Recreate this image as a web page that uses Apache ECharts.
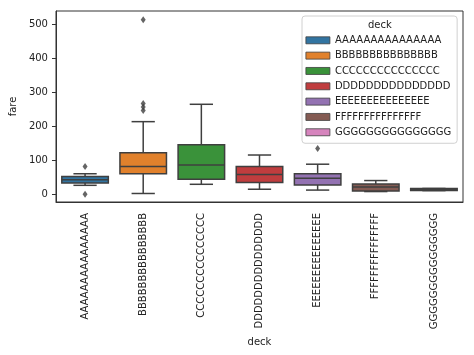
<!DOCTYPE html>
<html>
<head>
<meta charset="utf-8">
<script src="https://cdn.jsdelivr.net/npm/echarts@6/dist/echarts.min.js"></script>
<style>html,body{margin:0;padding:0;background:#fff}#c{width:474px;height:355px}</style>
</head>
<body>
<div id="c"></div>
<script>
const categories = ['AAAAAAAAAAAAAAA','BBBBBBBBBBBBBBB','CCCCCCCCCCCCCCC','DDDDDDDDDDDDDDD','EEEEEEEEEEEEEEE','FFFFFFFFFFFFFFF','GGGGGGGGGGGGGGG'];
const colors = ['#3274a1','#e1812c','#3a923a','#c03d3e','#9372b2','#845b53','#d684bd'];
const lows  = [26, 2, 29, 14.5, 12, 7.7, 10.5];
const q1s   = [33, 60, 44, 34, 27, 9.6, 10.5];
const meds  = [42, 81, 86, 57.5, 47, 21, 13.6];
const q3s   = [52, 122, 145, 81, 60, 30, 16.7];
const highs = [60, 213, 264, 115, 88, 40, 16.7];
const outlierCat = [0, 0, 1, 1, 1, 1, 4];
const outlierVal = [0, 81, 512, 266, 256, 246, 134];
const yTicks = [0, 100, 200, 300, 400, 500];

const FONT = 'DejaVu Sans';
const EDGE = '#3f3f3f';

function renderBox(params, api) {
  const i = api.value(0);
  const pLow = api.coord([i, api.value(1)]);
  const pQ1 = api.coord([i, api.value(2)]);
  const pMed = api.coord([i, api.value(3)]);
  const pQ3 = api.coord([i, api.value(4)]);
  const pHigh = api.coord([i, api.value(5)]);
  const cx = pMed[0];
  const bw = api.size([1, 0])[0] * 0.8;
  const cw = bw / 2;
  const ls = {stroke: EDGE, lineWidth: 1.5};
  return {
    type: 'group',
    children: [
      {type: 'line', shape: {x1: cx, y1: pQ3[1], x2: cx, y2: pHigh[1]}, style: ls},
      {type: 'line', shape: {x1: cx, y1: pQ1[1], x2: cx, y2: pLow[1]}, style: ls},
      {type: 'line', shape: {x1: cx - cw/2, y1: pHigh[1], x2: cx + cw/2, y2: pHigh[1]}, style: ls},
      {type: 'line', shape: {x1: cx - cw/2, y1: pLow[1], x2: cx + cw/2, y2: pLow[1]}, style: ls},
      {type: 'rect', shape: {x: cx - bw/2, y: pQ3[1], width: bw, height: pQ1[1] - pQ3[1]},
        style: {fill: api.visual('color'), stroke: EDGE, lineWidth: 1.5}},
      {type: 'line', shape: {x1: cx - bw/2, y1: pMed[1], x2: cx + bw/2, y2: pMed[1]}, style: ls}
    ]
  };
}

const boxSeries = categories.map((name, i) => ({
  name: name,
  type: 'custom',
  renderItem: renderBox,
  itemStyle: {color: colors[i]},
  encode: {x: 0, y: [1, 2, 3, 4, 5]},
  data: [[i, lows[i], q1s[i], meds[i], q3s[i], highs[i]]],
  z: 2
}));

const outlierSeries = {
  name: 'outliers',
  type: 'scatter',
  symbol: 'diamond',
  symbolSize: [5, 7],
  itemStyle: {color: EDGE},
  data: outlierCat.map((c, k) => [c, outlierVal[k]]),
  z: 3
};

const chart = echarts.init(document.getElementById('c'), null, {renderer: 'canvas'});
chart.setOption({
  animation: false,
  textStyle: {fontFamily: FONT},
  grid: {left: 53, right: 11, top: 11, bottom: 153, show: true, borderColor: '#333', borderWidth: 1, backgroundColor: 'transparent'},
  xAxis: {
    type: 'category',
    data: categories,
    boundaryGap: true,
    name: 'deck',
    nameLocation: 'middle',
    nameGap: 130,
    nameTextStyle: {fontFamily: FONT, fontSize: 10, color: '#222'},
    axisLine: {onZero: false, lineStyle: {color: '#333', width: 1}},
    axisTick: {alignWithLabel: true, length: 4, lineStyle: {color: '#333'}},
    axisLabel: {rotate: 90, fontFamily: FONT, fontSize: 10, color: '#222', margin: 11, interval: 0},
    splitLine: {show: false}
  },
  yAxis: {
    type: 'value',
    min: -23,
    max: 538,
    name: 'fare',
    nameLocation: 'middle',
    nameGap: 27,
    nameTextStyle: {fontFamily: FONT, fontSize: 10, color: '#222'},
    axisLine: {show: true, lineStyle: {color: '#333', width: 1}},
    axisTick: {show: true, length: 4, customValues: yTicks, lineStyle: {color: '#333'}},
    axisLabel: {customValues: yTicks, fontFamily: FONT, fontSize: 10, color: '#222', margin: 8},
    splitLine: {show: false}
  },
  legend: {
    orient: 'vertical',
    left: 302,
    top: 16,
    data: categories,
    icon: 'rect',
    itemWidth: 24,
    itemHeight: 7,
    itemGap: 2.33,
    padding: [17.8, 6, 4.5, 3.5],
    backgroundColor: 'rgba(255,255,255,0.85)',
    borderColor: '#d0d0d0',
    borderWidth: 1,
    borderRadius: 3,
    itemStyle: {borderColor: EDGE, borderWidth: 0.8},
    textStyle: {fontFamily: FONT, fontSize: 10, color: '#222', lineHeight: 13},
    selectedMode: false
  },
  graphic: [{
    type: 'text', left: 368, top: 20, z: 100,
    style: {text: 'deck', font: '10px "DejaVu Sans"', fill: '#222'}
  }],
  series: boxSeries.concat([outlierSeries])
});
</script>
</body>
</html>
